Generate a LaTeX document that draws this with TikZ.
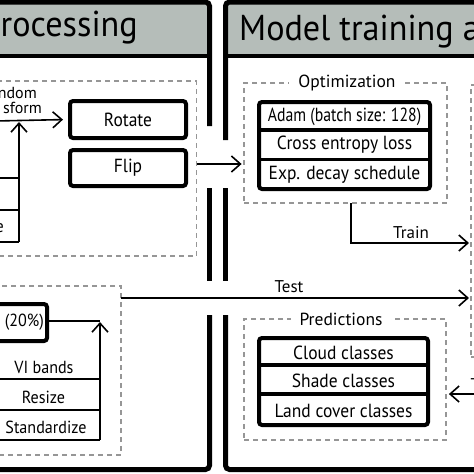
\documentclass[tikz,border=0pt]{standalone}
\usepackage{fontspec}
\setmainfont{PT Sans}
\newfontfamily\hdrfam{PT Sans}[FakeStretch=0.95]
\newfontfamily\boxfam{PT Sans}[FakeStretch=0.92]
\newfontfamily\narrowfam{PT Sans}[FakeStretch=0.83]
\usetikzlibrary{arrows.meta}
\definecolor{hdrgray}{RGB}{181,189,185}
\definecolor{dgray}{RGB}{150,150,150}
\newcommand\hdrfont{\hdrfam\fontsize{36}{40}\selectfont}
\newcommand\boxfont{\boxfam\fontsize{19}{21}\selectfont}
\newcommand\stkfont{\boxfam\fontsize{17.5}{19}\selectfont}
\newcommand\lblfont{\fontsize{17}{19}\selectfont}
\newcommand\dlblfont{\fontsize{17.5}{19}\selectfont}
\tikzset{
  panelline/.style={line width=5pt, rounded corners=4pt},
  hdrline/.style={line width=4pt},
  dbox/.style={draw=dgray, line width=1.8pt, dash pattern=on 5pt off 4pt, inner sep=0pt},
  tbox/.style={draw, line width=4pt, rounded corners=3pt, inner sep=0pt},
  rowtxt/.style={inner sep=0pt, font=\boxfont},
  stktxt/.style={inner sep=0pt, font=\stkfont},
  lbl/.style={inner sep=0pt, font=\lblfont},
  dlbl/.style={fill=white, inner xsep=9pt, inner ysep=2pt, font=\dlblfont},
  thinline/.style={line width=1.6pt},
  divline/.style={line width=3.5pt},
  conn/.style={line width=1.6pt, -{Straight Barb[length=9pt,width=16pt]}}
}
\begin{document}
\begin{tikzpicture}[x=1pt,y=-1pt]
\useasboundingbox (0,0) rectangle (474,474);
\clip (0,0) rectangle (474,474);
% header fills
\fill[hdrgray] (-20,2) rectangle (209.5,55.5);
\fill[hdrgray] (225.5,2) rectangle (520,55.5);
% panel borders
\draw[panelline] (209.5,126) -- (209.5,2) -- (-20,2);
\draw[panelline] (209.5,188) -- (209.5,281);
\draw[panelline] (209.5,315) -- (209.5,469.5) -- (-20,469.5);
\draw[panelline] (225.5,140) -- (225.5,2) -- (520,2);
\draw[panelline] (225.5,188) -- (225.5,281);
\draw[panelline] (225.5,315) -- (225.5,469.5) -- (520,469.5);
\draw[hdrline] (-20,55.5) -- (207,55.5);
\draw[hdrline] (228,55.5) -- (520,55.5);
% header texts
\node[anchor=base west, inner sep=0pt, font=\hdrfont] (hleft) at (0.5,36) {rocessing};
\node[anchor=base west, inner sep=0pt, font=\hdrfont] (hright) at (239,40) {Model training a};

% ---------- left panel ----------
\node[dbox, minimum width=206.5pt, minimum height=175pt] (updash) at (93.25,168.5) {};
\node[dbox, minimum width=131pt, minimum height=169pt] (lowdash) at (55.5,370.5) {};

\node[inner sep=0pt, anchor=north east, align=right, font=\fontsize{16}{15}\selectfont] (rt) at (42,87) {ndom\hspace*{5pt}\\sform};

\node[tbox, minimum width=116pt, minimum height=37pt, font=\boxfont] (rotate) at (128,119.5) {Rotate};
\node[tbox, minimum width=116pt, minimum height=36pt, font=\boxfont] (flip) at (128,168) {Flip};

% upper-left stack
\draw[thinline] (-5,178) -- (19,178);
\draw[thinline] (-5,210) -- (19,210);
\draw[thinline] (-5,242) -- (19,242);
\node[stktxt, anchor=east] (ustk) at (4,228) {e};
\coordinate (rtin) at (-5,121);
\coordinate (ustkR) at (19,242);
\coordinate (ustkT) at (19,122);
\draw[conn, shorten >=5pt] (rtin) -- (rotate.west);
\draw[conn] (ustkR) -- (ustkT);

% lower-left
\node[tbox, minimum width=55pt, minimum height=37pt] (pct) at (19.5,322.5) {};
\node[stktxt, anchor=east] (pcttxt) at (44,322) {(20\%)};
\coordinate (pctR) at (100,321);
\draw[thinline] (pct.east |- pctR) -- (pctR);
\draw[thinline] (-5,379) -- (100,379);
\draw[thinline] (-5,410) -- (100,410);
\draw[thinline] (-5,440) -- (100,440);
\coordinate (lstkR) at (100,440);
\coordinate (lstkT) at (100,322);
\draw[conn] (lstkR) -- (lstkT);
\node[stktxt] (vib) at (44,367.5) {VI bands};
\node[stktxt] (rsz) at (43.5,397.5) {Resize};
\node[stktxt] (std) at (46,427) {Standardize};

% ---------- right panel ----------
\node[dbox, minimum width=203pt, minimum height=120pt] (optdash) at (345.5,143) {};
\node[dlbl] (optlbl) at (347,83) {Optimization};
\node[tbox, minimum width=171pt, minimum height=87pt] (optstack) at (344.5,145.5) {};
\draw[divline] (259,130) -- (430,130);
\draw[divline] (259,159.5) -- (430,159.5);
\node[inner sep=0pt, font=\narrowfam\fontsize{19}{21}\selectfont] (adam) at (344.5,116.5) {Adam (batch size: 128)};
\node[rowtxt] (xent) at (344.5,145) {Cross entropy loss};
\node[rowtxt] (expd) at (344.5,175) {Exp. decay schedule};

\node[dbox, minimum width=202pt, minimum height=121pt] (preddash) at (345,379.5) {};
\node[dlbl] (predlbl) at (341,319) {Predictions};
\node[tbox, minimum width=169pt, minimum height=87pt] (predstack) at (343.5,381.5) {};
\draw[divline] (259,365) -- (428,365);
\draw[divline] (259,394) -- (428,394);
\node[rowtxt] (cloud) at (343.5,352.5) {Cloud classes};
\node[rowtxt] (shade) at (343.5,380.5) {Shade classes};
\node[rowtxt] (land) at (343.5,411) {Land cover classes};

\node[dbox, minimum width=60pt, minimum height=272pt] (modeldash) at (501,221) {};

% connectors
\coordinate (fa) at (196.5,164);
\draw[conn, shorten >=1.5pt] (fa) -- (fa -| optdash.west);
\coordinate (tr0) at (351,203);
\coordinate (tr1) at (469,243);
\draw[conn] (tr0) |- (tr1);
\node[lbl] (trainlbl) at (411,233) {Train};
\coordinate (te0) at (121,298);
\coordinate (te1) at (469,298);
\draw[conn] (te0) -- (te1);
\node[lbl] (testlbl) at (289,287) {Test};
\coordinate (pa) at (480,394);
\draw[conn, shorten >=2pt] (pa) -- (pa -| preddash.east);
\node[lbl, anchor=west] (palbl) at (470.5,384.5) {T};
\end{tikzpicture}
\end{document}
